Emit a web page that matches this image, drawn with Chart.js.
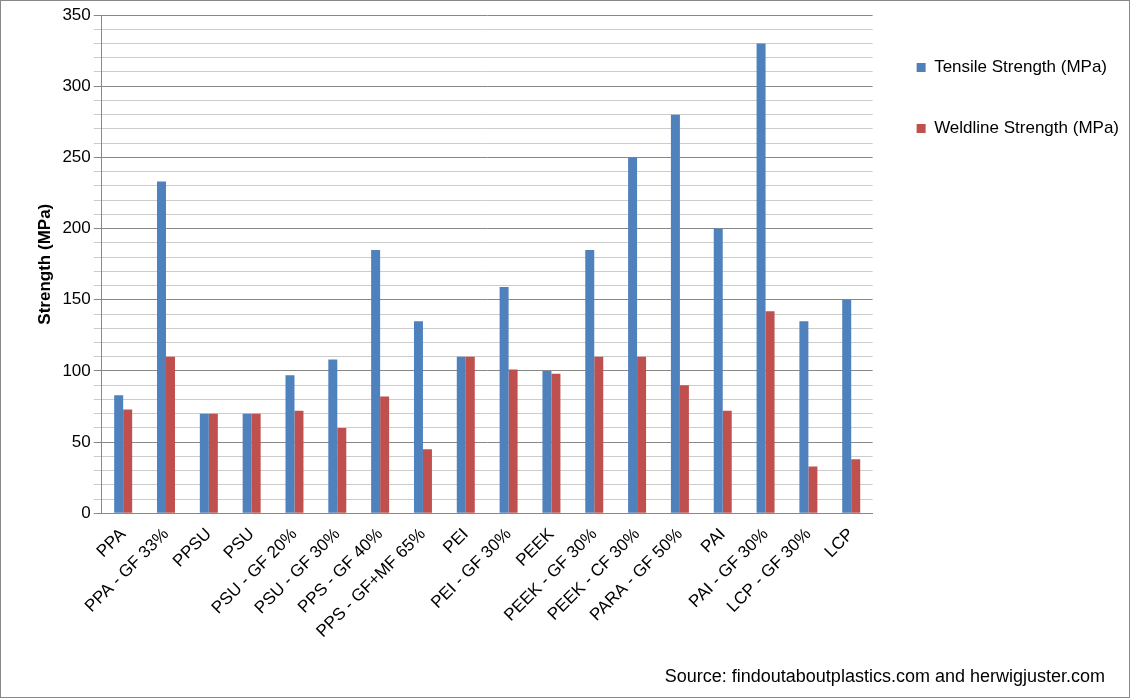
<!DOCTYPE html>
<html><head><meta charset="utf-8">
<script src="https://cdn.jsdelivr.net/npm/chart.js@4/dist/chart.umd.min.js"></script>
<style>
html,body{margin:0;padding:0;background:#fff;}
#wrap{position:relative;width:1128px;height:696px;border:1px solid #888;}
#src{position:absolute;right:24px;bottom:10px;font:18px "Liberation Sans",Arial,sans-serif;color:#000;}
</style></head><body>
<div id="wrap"><canvas id="c" width="1128" height="696"></canvas><div id="src">Source: findoutaboutplastics.com and herwigjuster.com</div></div>
<script>
const categories=["PPA","PPA - GF 33%","PPSU","PSU","PSU - GF 20%","PSU - GF 30%","PPS - GF 40%","PPS - GF+MF 65%","PEI","PEI - GF 30%","PEEK","PEEK - GF 30%","PEEK - CF 30%","PARA - GF 50%","PAI","PAI - GF 30%","LCP - GF 30%","LCP"];
const tensile=[83,233,70,70,97,108,185,135,110,159,100,185,250,280,200,330,135,150];
const weldline=[73,110,70,70,72,60,82,45,110,101,98,110,110,90,72,142,33,38];
const seriesNames=["Tensile Strength (MPa)","Weldline Strength (MPa)"];
const font='"Liberation Sans", Arial, sans-serif';
new Chart(document.getElementById('c'),{
type:'bar',
data:{labels:categories,datasets:[
{label:seriesNames[0],data:tensile,backgroundColor:'#4f81bd',barPercentage:1,categoryPercentage:0.42},
{label:seriesNames[1],data:weldline,backgroundColor:'#c0504d',barPercentage:1,categoryPercentage:0.42}]},
options:{responsive:false,animation:false,
layout:{padding:{left:30,top:14,right:0,bottom:52}},
plugins:{legend:{position:'right',align:'start',labels:{boxWidth:9,boxHeight:9,padding:44,color:'#000',font:{family:font,size:17}}},tooltip:{enabled:false}},
scales:{
x:{grid:{display:false},border:{color:'#888'},ticks:{color:'#000',autoSkip:false,maxRotation:45,minRotation:45,font:{family:font,size:17}}},
y:{min:0,max:350,border:{color:'#888'},
grid:{color:c=>c.tick.value%50===0?'#888':'#ccc'},
ticks:{stepSize:10,autoSkip:false,color:'#000',font:{family:font,size:17},callback:v=>v%50===0?v:''},
title:{display:true,text:'Strength (MPa)',color:'#000',font:{family:font,size:17,weight:'bold'}}}}}
});
</script></body></html>
